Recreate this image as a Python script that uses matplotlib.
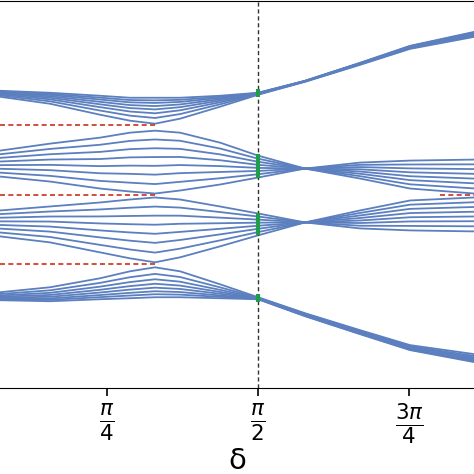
import numpy as np
import matplotlib
matplotlib.use("Agg")
import matplotlib.pyplot as plt

# sample positions (pixel columns of the original, converted to delta below)
x_px = [0, 50, 100, 130, 155, 180, 220, 258, 305, 360, 410, 474]
# band edges (energy in screen units, larger = lower)
a_top = [90, 92, 95, 97, 97, 97, 95, 92, 80, 62, 45, 31]
a_bot = [96, 103, 114, 120, 123, 118, 106, 94, 81, 64, 48, 36]
b_top = [150, 143, 137, 132, 130, 132, 142, 155, 168, 162, 160, 159]
b_bot = [176, 181, 188, 191, 193, 190, 184, 177, 168, 178, 188, 193]
c_top = [210, 206, 202, 199, 197, 199, 206, 213, 222, 210, 200, 197]
c_bot = [236, 242, 252, 258, 262, 257, 246, 235, 222, 228, 230, 231]
d_top = [292, 287, 278, 271, 267, 271, 284, 297, 313, 330, 345, 354]
d_bot = [300, 301, 299, 298, 297, 297, 298, 299, 316, 334, 350, 362]
frac_a = [0, .1, .2, .32, .45, .6, .78, 1]
frac_bc = [0, .14, .28, .42, .56, .7, .85, 1]
frac_d = [0, .22, .4, .55, .68, .8, .9, 1]

# edge states (red dashed): (y, x_start_px, x_end_px)
edge_states = [(124, 0, 155), (195, 0, 155), (264, 0, 155), (195, 440, 474)]
# green markers at pi/2: (y_top, y_bottom)
green = [(88, 96), (153, 177), (213, 235), (294, 302)]


def to_delta(px):
    return np.pi / 2 + (np.asarray(px, float) - 258) / 151 * (np.pi / 4)


fig = plt.figure(figsize=(4.74, 4.74), dpi=100)
ax = fig.add_axes([0, 1 - 388 / 474, 1, 387 / 474])
x = to_delta(x_px)
blue = "#5b7fbf"
for top, bot, fr in [(a_top, a_bot, frac_a), (b_top, b_bot, frac_bc),
                     (c_top, c_bot, frac_bc), (d_top, d_bot, frac_d)]:
    top, bot = np.array(top, float), np.array(bot, float)
    for f in fr:
        ax.plot(x, top + f * (bot - top), color=blue, lw=1.3)

for y, x0, x1 in edge_states:
    ax.plot(to_delta([x0, x1]), [y, y], color="#c8321e", lw=1.2, ls=(0, (3, 2)))

ax.axvline(np.pi / 2, color="#333333", lw=1.0, ls=(0, (3, 2)))
for y0, y1 in green:
    ax.plot([np.pi / 2] * 2, [y0, y1], color="#1e9e4a", lw=3, solid_capstyle="butt")

ax.set_xlim(to_delta(0), to_delta(474))
ax.set_ylim(388, 0)
ax.set_yticks([])
ax.spines["left"].set_visible(False)
ax.spines["right"].set_visible(False)
ax.set_xticks([np.pi / 4, np.pi / 2, 3 * np.pi / 4])
ax.set_xticklabels([r"$\frac{\pi}{4}$", r"$\frac{\pi}{2}$", r"$\frac{3\pi}{4}$"], fontsize=22)
ax.tick_params(axis="x", length=6, width=1.2)
ax.set_xlabel("δ", fontsize=21, labelpad=0)
fig.savefig("out.png", dpi=100)
